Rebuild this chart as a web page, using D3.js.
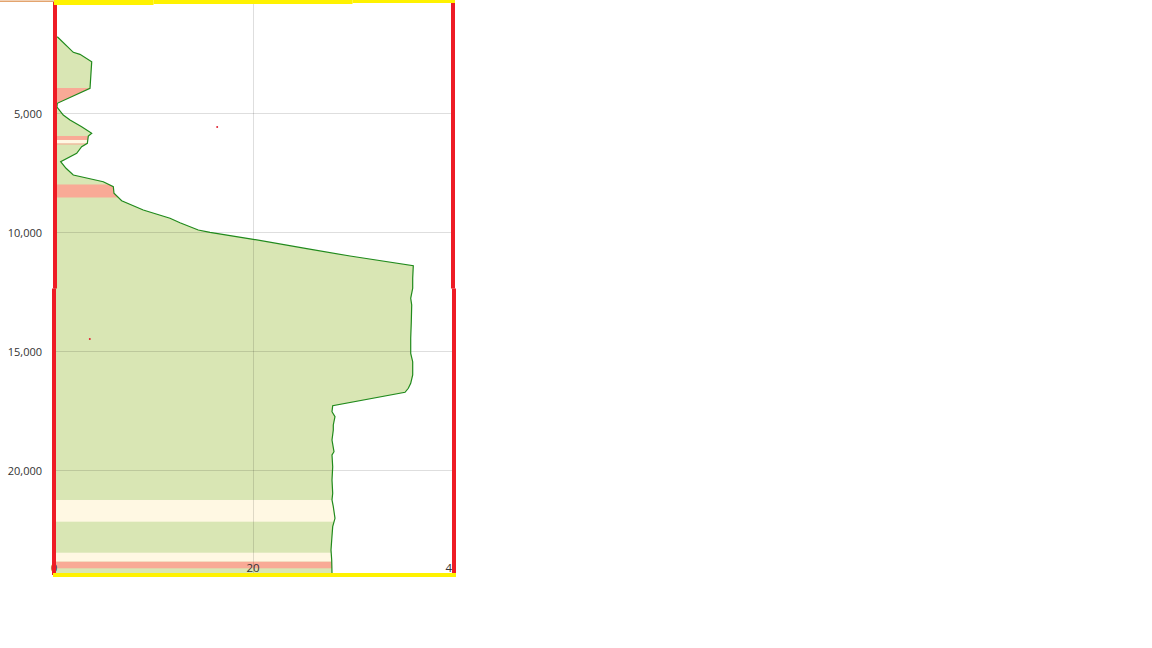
<!DOCTYPE html>
<html><head><meta charset="utf-8">
<script src="https://cdn.jsdelivr.net/npm/d3@7"></script>
<style>body{margin:0;background:#fff;overflow:hidden} text{font-family:"Open Sans",sans-serif}</style>
</head><body><svg id="c" width="1152" height="648"></svg>
<script>
// profile: depth (y) vs value (x)
const depths = [1752,2408,2492,2803,3920,4550,4706,5042,5252,5534,5811,5924,6231,6374,6651,7004,7282,7563,7845,8055,8332,8643,9034,9382,9567,9874,9971,10265,10660,10966,11374,11903,12324,12744,13025,13727,14424,15055,15408,15966,16315,16525,16693,17256,17508,17719,18067,18277,18697,19189,19328,19819,20378,20937,21218,21500,21987,22340,22899,23319,23739,24298,24370];
const values = [0.33,1.94,2.61,3.79,3.62,0.33,0.30,0.93,1.61,2.78,3.79,3.45,3.35,2.78,2.28,0.67,1.21,1.94,4.95,5.96,6.03,6.80,8.97,11.66,12.66,14.50,15.68,20.03,25.40,29.75,36.11,36.05,36.05,35.85,35.95,35.91,35.85,35.85,36.05,36.05,35.85,35.61,35.28,28.01,27.94,28.24,28.07,28.07,27.94,28.14,27.94,28.01,27.94,28.01,27.94,28.07,28.24,28.01,27.91,27.84,27.91,27.94,27.94];
// coloured depth intervals
const bandStart = [3908,5924,6092,6239,7962,21218,23433,23811];
const bandEnd   = [4496,6092,6239,6282,8508,22130,23811,24088];
const bandKind  = ["red","red","cream","red","red","cream","cream","red"];
// stray points
const dotDepths = [5546,14454];
const dotValues = [16.4,3.6];
// ticks
const yTicks = [5000,10000,15000,20000];
const xTicks = [0,20,40];

(function(){
const bandColor = {red:"#f9aa96", cream:"#fff8e3"};
const svg = d3.select("#c");
svg.append("rect").attr("width",1152).attr("height",648).attr("fill","#fff");

const x = d3.scaleLinear().domain([0,40]).range([54,452]);
const y = d3.scaleLinear().domain([0,24370]).range([-5,575]);
const T = 2, B = 575, L = x.range()[0], R = x.range()[1];

const data = depths.map((d,i)=>({depth:d, value:values[i]}));
const defs = svg.append("defs");
defs.append("clipPath").attr("id","plot").append("rect")
  .attr("x",L).attr("y",T).attr("width",R-L).attr("height",B-T);
const area = d3.area().y(d=>y(d.depth)).x0(x(0)).x1(d=>x(d.value));
defs.append("clipPath").attr("id","areaClip").append("path").attr("d",area(data));
defs.append("clipPath").attr("id","xlab").append("rect")
  .attr("x",0).attr("y",0).attr("width",R+3).attr("height",648);

const g = svg.append("g").attr("clip-path","url(#plot)");
g.append("path").attr("d",area(data)).attr("fill","#d9e6b4");
const strips = g.append("g").attr("clip-path","url(#areaClip)");
strips.selectAll("rect.band").data(bandStart.map((s,i)=>({s,e:bandEnd[i],k:bandKind[i]})))
  .join("rect").attr("class","band")
  .attr("x",L).attr("width",R-L)
  .attr("y",d=>y(d.s)).attr("height",d=>y(d.e)-y(d.s))
  .attr("fill",d=>bandColor[d.k]);

// gridlines
g.selectAll("line.hg").data(yTicks).join("line").attr("class","hg")
  .attr("x1",L).attr("x2",R).attr("y1",d=>y(d)).attr("y2",d=>y(d))
  .attr("stroke","rgba(0,0,0,0.13)").attr("stroke-width",1).attr("shape-rendering","crispEdges");
g.selectAll("line.vg").data(xTicks).join("line").attr("class","vg")
  .attr("x1",d=>x(d)).attr("x2",d=>x(d)).attr("y1",T).attr("y2",B)
  .attr("stroke","rgba(0,0,0,0.13)").attr("stroke-width",1).attr("shape-rendering","crispEdges");

g.append("path").attr("d",d3.line().x(d=>x(d.value)).y(d=>y(d.depth))(data))
  .attr("fill","none").attr("stroke","#208a1c").attr("stroke-width",1.2);

g.selectAll("circle").data(dotDepths.map((d,i)=>({d,v:dotValues[i]}))).join("circle")
  .attr("cx",d=>x(d.v)).attr("cy",d=>y(d.d)).attr("r",1).attr("fill","#e02030");

// axis labels
svg.selectAll("text.yl").data(yTicks).join("text").attr("class","yl")
  .attr("x",L-12).attr("y",d=>y(d)+4).attr("text-anchor","end")
  .attr("font-size",11).attr("fill","#333").text(d3.format(","));
svg.append("g").attr("clip-path","url(#xlab)").selectAll("text").data(xTicks).join("text")
  .attr("x",d=>x(d)).attr("y",B-3).attr("text-anchor","middle")
  .attr("font-size",11.5).attr("fill","#333").text(d=>d);

// frame overlay
const mid = (T+B)/2;
const red = "#ee1c25", yel = "#fff200";
[[L+1,T,mid],[L,mid,B],[R+1,T,mid],[R+2,mid,B]].forEach(([xx,a,b])=>{
  svg.append("line").attr("x1",xx).attr("x2",xx).attr("y1",a).attr("y2",b)
    .attr("stroke",red).attr("stroke-width",4);
});
[[L,x(10),5],[x(10),x(30),4],[x(30),R+3,3]].forEach(([a,b,h])=>{
  svg.append("rect").attr("x",a).attr("y",0).attr("width",b-a).attr("height",h).attr("fill",yel);
});
svg.append("rect").attr("x",L-1).attr("y",B-2).attr("width",R-L+5).attr("height",4).attr("fill",yel);
svg.append("rect").attr("x",0).attr("y",0.5).attr("width",L).attr("height",1.5).attr("fill","#e3a46e");
})();
</script></body></html>
